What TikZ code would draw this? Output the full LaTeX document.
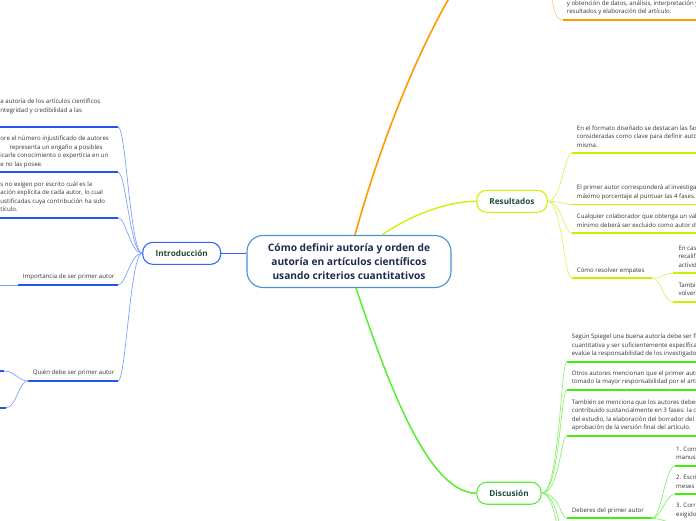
\documentclass[tikz,border=0pt]{standalone}
\usepackage{fontspec}
\setmainfont{Open Sans}
\usetikzlibrary{calc}
\definecolor{azulTema}{HTML}{4A90D9}
\definecolor{azulIntro}{HTML}{3366FF}
\definecolor{azulRaya}{HTML}{2255EE}
\definecolor{azulEnlace}{HTML}{7FA0FF}
\definecolor{naranja}{HTML}{FF9900}
\definecolor{naranjaEnlace}{HTML}{FFC880}
\definecolor{amarillo}{HTML}{D2F00A}
\definecolor{amarilloRaya}{HTML}{CCEE00}
\definecolor{amarilloEnlace}{HTML}{DDF066}
\definecolor{verde}{HTML}{55EE33}
\definecolor{verdeRaya}{HTML}{44EE11}
\definecolor{verdeEnlace}{HTML}{8CF070}
\definecolor{textoTema}{HTML}{1C2A4E}
\definecolor{textoRama}{HTML}{1E4A3C}
\definecolor{textoNota}{HTML}{333333}
\newcommand{\notafont}{\fontsize{6.1}{8.4}\selectfont}
\newcommand{\ramafont}{\fontsize{8.2}{10}\selectfont\bfseries}
\newcommand{\temafont}{\fontsize{10.2}{14}\selectfont\bfseries}

\begin{document}
\begin{tikzpicture}[x=1pt, y=-1pt,
  tema/.style={draw=azulTema, line width=1.1pt, rounded corners=16pt, fill=white,
    minimum width=204pt, minimum height=52pt, align=center, text=textoTema, font=\temafont},
  rama/.style={draw=#1, line width=1.1pt, rounded corners=10pt, fill=white,
    minimum height=22pt, text=textoRama, font=\ramafont},
  nota/.style={anchor=south west, align=left, inner sep=0pt, text=textoNota,
    font=\notafont, execute at end node=\strut},
  enlace/.style={draw=#1, line width=0.7pt},
  raya/.style={draw=#1, line width=1.8pt}]
  \useasboundingbox (0,0) rectangle (696,520);
  \clip (0,0) rectangle (696,520);

  % main topics
  \node[tema] (tema) at (349,261.5) {Cómo definir autoría y orden de\\autoría en artículos científicos\\usando criterios cuantitativos};
  \node[rama=azulIntro, minimum width=78pt]  (intro) at (181.7,253.3) {Introducción};
  \node[rama=amarillo, minimum width=70.6pt] (res)   at (512,201.3)   {Resultados};
  \node[rama=verde, minimum width=64.3pt]    (disc)  at (509,493.2)   {Discusión};
  \coordinate (met) at (455,-12);

  \draw[naranja, line width=1.6pt] ([xshift=6pt]tema.north) .. controls (377,155) and (413,58) .. (met);
  \draw[azulIntro, line width=1.4pt] (intro.east) -- (intro.east -| tema.west);
  \draw[amarillo, line width=1.4pt] ([xshift=33pt]tema.north) .. controls (400,222) and (440,201.3) .. (res.west);
  \draw[verde, line width=1.5pt] ([xshift=7pt]tema.south) .. controls (386,377) and (427,493.2) .. (disc.west);

  % Introduccion
  \coordinate (i1) at (118,126.7); \coordinate (i1o) at (-5,126.7);
  \coordinate (i2) at (118,172.3); \coordinate (i2o) at (-5,172.3);
  \coordinate (i3) at (118,217.7); \coordinate (i3o) at (-5,217.7);
  \coordinate (i4) at (118,285);   \coordinate (i4a) at (18,285);   \coordinate (i4o) at (-5,285);
  \coordinate (i5) at (118,381);   \coordinate (i5a) at (28.3,381);
  \coordinate (q1) at (4,371);     \coordinate (q1o) at (-5,371);
  \coordinate (q2) at (6,407.7);   \coordinate (q2o) at (-5,407.7);
  \foreach \n in {i1,i2,i3,i4,i5}
    \draw[enlace=azulEnlace] (intro.west) .. controls +(-12,0) and +(8,0) .. (\n);
  \draw[raya=azulRaya] (i1o) -- (i1);
  \draw[raya=azulRaya] (i2o) -- (i2);
  \draw[raya=azulRaya] (i3o) -- (i3);
  \draw[raya=azulRaya] (i4a) -- (i4);
  \draw[enlace=azulEnlace] (i4a) -- (i4o);
  \draw[raya=azulRaya] (i5a) -- (i5);
  \draw[enlace=azulEnlace] (i5a) .. controls (18,381) and (15,371) .. (q1);
  \draw[enlace=azulEnlace] (i5a) .. controls (18,381) and (17,407.7) .. (q2);
  \draw[raya=azulRaya] (q1o) -- (q1);
  \draw[raya=azulRaya] (q2o) -- (q2);

  \node[nota] (n1) at (0.3,123.2) {a autoría de los artículos científicos\\ntegridad y credibilidad a las\\\mbox{}};
  \node[nota] (n2) at (0.3,168.8) {ore el número injustificado de autores\\\mbox{}\\icarle conocimiento o experticia en un\\e no las posee.};
  \node[nota, anchor=base west] (n2b) at (9.3,149.5) {representa un engaño a posibles};
  \node[nota] (n3) at (0.3,214.2) {s no exigen por escrito cuál es la\\ación explícita de cada autor, lo cual\\ustificadas cuya contribución ha sido\\tículo.};
  \node[nota] (n4) at (22.7,281.5) {Importancia de ser primer autor};
  \node[nota] (n5) at (32.7,377.5) {Quién debe ser primer autor};

  % Metodos (arriba)
  \coordinate (metx) at (552,-15);
  \coordinate (o1) at (563,20); \coordinate (o1e) at (700,20);
  \draw[enlace=naranjaEnlace] (metx) .. controls (552,5) and (554,20) .. (o1);
  \draw[raya=naranja] (o1) -- (o1e);
  \node[nota] (m1) at (566.7,16.5) {y obtención de datos, análisis, interpretación y\\resultados y elaboración del artículo.};

  % Resultados
  \coordinate (r1) at (572,153.3); \coordinate (r1e) at (700,153.3);
  \coordinate (r2) at (572,204.5); \coordinate (r2e) at (700,204.5);
  \coordinate (r3) at (572,233.3); \coordinate (r3e) at (700,233.3);
  \coordinate (r4) at (572,278.3); \coordinate (r4e) at (652,278.3);
  \coordinate (e1) at (673,273.3); \coordinate (e1e) at (700,273.3);
  \coordinate (e2) at (673,301.7); \coordinate (e2e) at (700,301.7);
  \foreach \n in {r1,r2,r3,r4}
    \draw[enlace=amarilloEnlace] (res.east) .. controls +(14,0) and +(-8,0) .. (\n);
  \foreach \n in {e1,e2}
    \draw[enlace=amarilloEnlace] (r4e) .. controls +(10,0) and +(-10,0) .. (\n);
  \draw[raya=amarilloRaya] (r1) -- (r1e);
  \draw[raya=amarilloRaya] (r2) -- (r2e);
  \draw[raya=amarilloRaya] (r3) -- (r3e);
  \draw[raya=amarilloRaya] (r4) -- (r4e);
  \draw[raya=amarilloRaya] (e1) -- (e1e);
  \draw[raya=amarilloRaya] (e2) -- (e2e);

  \node[nota] (t1) at (576.7,149.8) {En el formato diseñado se destacan las fas\\consideradas como clave para definir auto\\misma.};
  \node[nota] (t2) at (576.7,201) {El primer autor corresponderá al investigad\\máximo porcentaje al puntuar las 4 fases.};
  \node[nota] (t3) at (576.7,229.8) {Cualquier colaborador que obtenga un valo\\mínimo deberá ser excluido como autor de};
  \node[nota] (t4) at (576.7,274.8) {Cómo resolver empates};
  \node[nota] (t5) at (678.3,269.8) {En cas\\recalif\\activid};
  \node[nota] (t6) at (678.3,298.2) {Tambié\\volver};

  % Discusion
  \coordinate (d1) at (566.7,361.7); \coordinate (d1e) at (700,361.7);
  \coordinate (d2) at (566.7,390);   \coordinate (d2e) at (700,390);
  \coordinate (d3) at (566.7,435.7); \coordinate (d3e) at (700,435.7);
  \coordinate (d4) at (566.7,518.3); \coordinate (d4e) at (651.7,518.3);
  \coordinate (d5) at (566.7,548);
  \coordinate (d6) at (566.7,578);
  \coordinate (s1) at (675,466);     \coordinate (s1e) at (700,466);
  \coordinate (s2) at (675,494.3);   \coordinate (s2e) at (700,494.3);
  \coordinate (s3) at (675,522.5);   \coordinate (s3e) at (700,522.5);
  \foreach \n in {d1,d2,d3,d4,d5,d6}
    \draw[enlace=verdeEnlace] (disc.east) .. controls +(18,0) and +(-6,0) .. (\n);
  \foreach \n in {s1,s2,s3}
    \draw[enlace=verdeEnlace] (d4e) .. controls +(10,0) and +(-10,0) .. (\n);
  \draw[raya=verdeRaya] (d1) -- (d1e);
  \draw[raya=verdeRaya] (d2) -- (d2e);
  \draw[raya=verdeRaya] (d3) -- (d3e);
  \draw[raya=verdeRaya] (d4) -- (d4e);
  \draw[raya=verdeRaya] (s1) -- (s1e);
  \draw[raya=verdeRaya] (s2) -- (s2e);
  \draw[raya=verdeRaya] (s3) -- (s3e);

  \node[nota] (u1) at (571.7,358.2) {Según Spiegel una buena autoría debe ser fl\\cuantitativa y ser suficientemente específica\\evalúe la responsabilidad de los investigador};
  \node[nota] (u2) at (571.7,386.5) {Otros autores mencionan que el primer auto\\tomado la mayor responsabilidad por el artíc};
  \node[nota] (u3) at (571.7,432.2) {También se menciona que los autores deben\\contribuido sustancialmente en 3 fases: la co\\del estudio, la elaboración del borrador del a\\aprobación de la versión final del artículo.};
  \node[nota] (u4) at (571.7,514.8) {Deberes del primer autor};
  \node[nota] (v1) at (676,462.5) {1. Cons\\manus};
  \node[nota] (v2) at (676,490.8) {2. Escri\\meses};
  \node[nota] (v3) at (676,519) {3. Corr\\exigido};
\end{tikzpicture}
\end{document}
